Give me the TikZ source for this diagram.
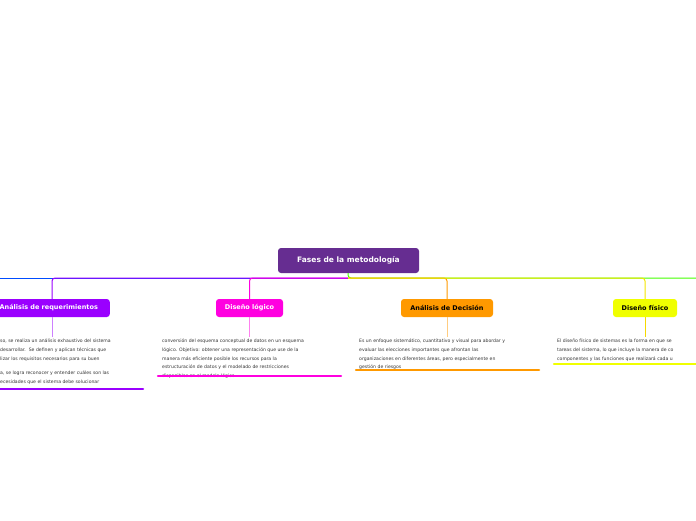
\documentclass[tikz,border=0pt]{standalone}
\usepackage{fontspec}
\setmainfont{DejaVu Sans}
\begin{document}
\begin{tikzpicture}[x=1pt,y=-1pt,
  topic/.style={rounded corners=3pt,text=white,font=\bfseries\fontsize{6.5}{7}\selectfont,inner sep=0pt,minimum height=18pt},
  desc/.style={anchor=north west,align=left,inner sep=0pt,text=black!80,font=\fontsize{4.6}{8.7}\selectfont},
  conn/.style={line width=1pt,rounded corners=3pt},
  under/.style={line width=2.5pt,line cap=round}]
\useasboundingbox (0,0) rectangle (696,520);
\clip (0,0) rectangle (696,520);
\definecolor{rootc}{HTML}{662D91}
\definecolor{reqc}{HTML}{9A00FF}
\definecolor{logc}{HTML}{FF00E0}
\definecolor{decc}{HTML}{FF9900}
\definecolor{fisc}{HTML}{F0FF00}
\definecolor{grc}{HTML}{44FF00}
\node[topic,fill=rootc,minimum width=141pt,minimum height=25pt,font=\bfseries\fontsize{7.5}{8}\selectfont] (root) at (348.5,260.5) {Fases de la metodología};
\node[topic,fill=reqc,minimum width=122pt,anchor=east] (req) at (110,308) {Análisis de requerimientos};
\node[topic,fill=logc,minimum width=67pt] (log) at (249.5,308) {Diseño lógico};
\node[topic,fill=decc,minimum width=92pt,text=black] (dec) at (447,308) {Análisis de Decisión};
\node[topic,fill=fisc,minimum width=64pt,text=black] (fis) at (645,308) {Diseño físico};
\coordinate (bl) at (-5,278);
\coordinate (gr) at (700,278);
\coordinate (j) at (348,278);
\draw[conn,blue!70!cyan] (j) -- (bl);
\draw[conn,reqc] (j) -| (req.north -| 52,0);
\draw[conn,logc] (j) -| (log.north);
\draw[conn,grc] (root.south -| j) -- (j) -- (gr);
\draw[conn,decc] (j) -| (dec.north);
\draw[conn,fisc!80!orange] (j) -| (fis.north);
\draw[reqc!50,line width=0.6pt] (52,317) -- (52,337);
\draw[logc!50,line width=0.6pt] (log.south) -- (249.5,337);
\draw[decc!50,line width=0.6pt] (dec.south) -- (447,337);
\draw[fisc!70!orange,line width=0.6pt] (fis.south) -- (645,337);
\node[desc] (t1) at (0,339) {so, se realiza un análisis exhaustivo del sistema\\desarrollar.\ \ Se definen y aplican técnicas que\\lizar los requisitos necesarios para su buen};
\node[desc] (t1b) at (0,371) {a, se logra reconocer y entender cuáles son las\\ecesidades que el sistema debe solucionar};
\draw[under,reqc] (-5,389) -- (143,389);
\node[desc] (t2) at (162,339) {conversión del esquema conceptual de datos en un esquema\\lógico. Objetivo: obtener una representación que use de la\\manera más eficiente posible los recursos para la\\estructuración de datos y el modelado de restricciones\\disponibles en el modelo lógico.};
\draw[under,logc] (158,376) -- (341,376);
\node[desc] (t3) at (359,339) {Es un enfoque sistemático, cuantitativo y visual para abordar y\\evaluar las elecciones importantes que afrontan las\\organizaciones en diferentes áreas, pero especialmente en\\gestión de riesgos};
\draw[under,decc] (356,370) -- (539,370);
\node[desc] (t4) at (557,339) {El diseño físico de sistemas es la forma en que se\\tareas del sistema, lo que incluye la manera de co\\componentes y las funciones que realizará cada u};
\draw[under,fisc] (554,364) -- (700,364);
\end{tikzpicture}
\end{document}
